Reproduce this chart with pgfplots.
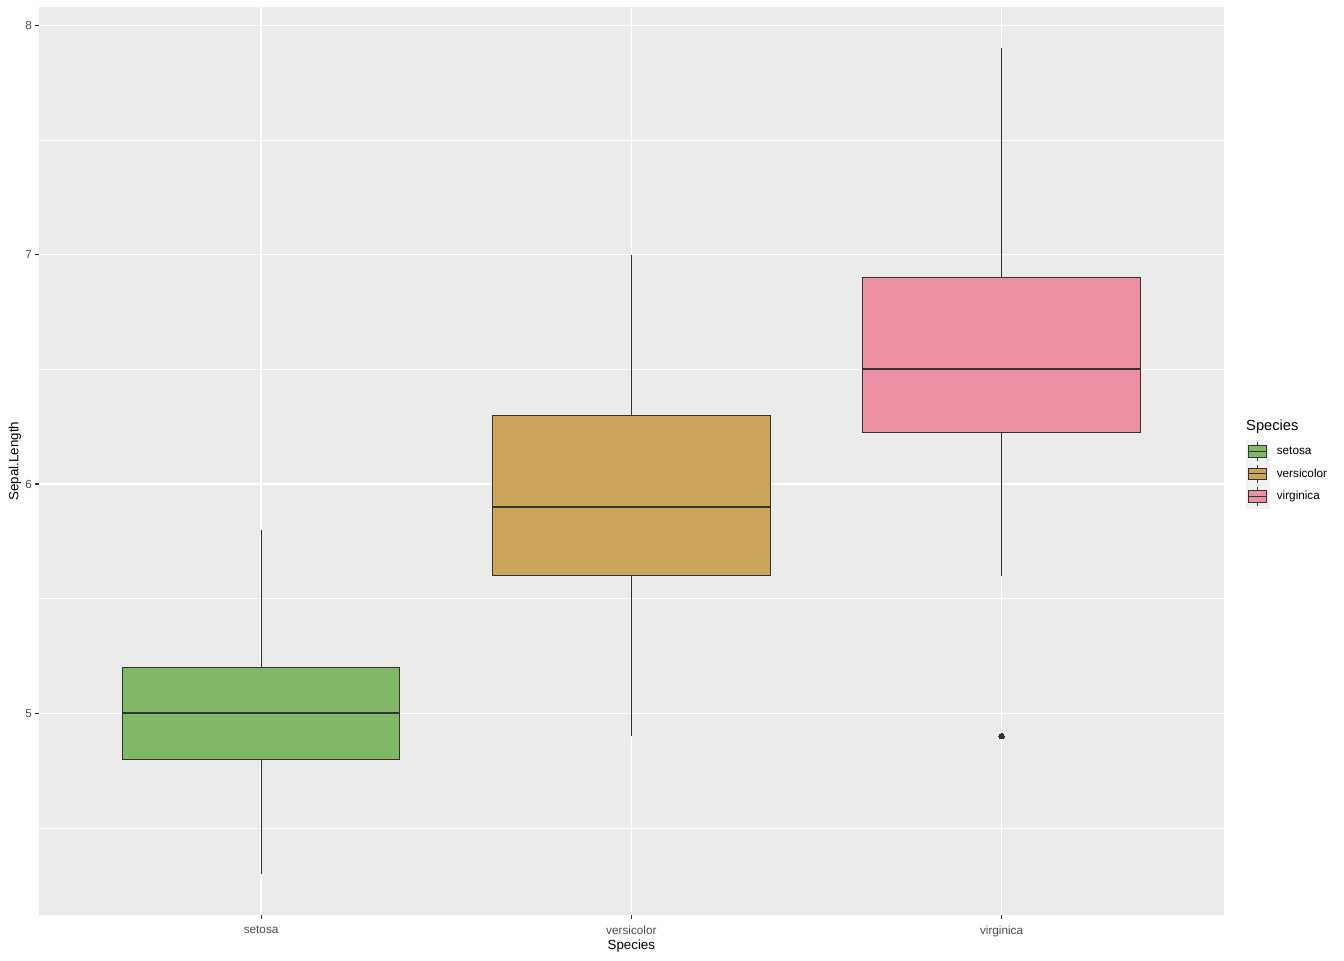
\documentclass[border=0pt]{standalone}
\usepackage{pgfplots}
\pgfplotsset{compat=1.18}
\usepackage{fontspec}
\setmainfont{Liberation Sans}
\definecolor{gray20}{HTML}{333333}
\definecolor{gray30}{HTML}{4D4D4D}
\definecolor{gray92}{HTML}{EBEBEB}
\definecolor{gray95}{HTML}{F2F2F2}
\definecolor{cSetosa}{HTML}{7FB966}
\definecolor{cVersi}{HTML}{CBA55B}
\definecolor{cVirg}{HTML}{EC8FA3}
\newcommand{\keyimg}[1]{%
  \fill[gray95] (0pt,-8.64pt) rectangle (17.28pt,8.64pt);
  \draw[gray20,line width=0.75pt] (8.64pt,-6.912pt) -- (8.64pt,6.912pt);
  \filldraw[fill=#1,draw=gray20,line width=0.75pt] (1.728pt,-4.32pt) rectangle (15.552pt,4.32pt);
  \draw[gray20,line width=0.75pt] (1.728pt,0pt) -- (15.552pt,0pt);
}
% box plot statistics: position, lower whisker, Q1, median, Q3, upper whisker
% setosa:     1, 4.3, 4.8,   5.0, 5.2, 5.8
% versicolor: 2, 4.9, 5.6,   5.9, 6.3, 7.0
% virginica:  3, 5.6, 6.225, 6.5, 6.9, 7.9  (outlier 4.9)
\pgfplotsset{
  whisk/.style={gray20, line width=0.75pt, forget plot, no markers},
  boxs/.style={fill=#1, draw=gray20, line width=0.75pt, forget plot, no markers},
  med/.style={gray20, line width=1.6pt, forget plot, no markers},
}
\begin{document}
\begin{tikzpicture}
\useasboundingbox (0,0) rectangle (1008pt,720pt);
\begin{axis}[
  at={(29.25pt,33.75pt)}, anchor=south west,
  scale only axis, width=888.5pt, height=680.9pt,
  xmin=0.4, xmax=3.6, ymin=4.12, ymax=8.08,
  xtick={1,2,3}, xticklabels={setosa,versicolor,virginica},
  ytick={5,6,7,8},
  minor ytick={4.5,5.5,6.5,7.5},
  xmajorgrids, ymajorgrids, yminorgrids,
  major grid style={white, line width=1.07pt},
  minor grid style={white, line width=0.53pt},
  axis background/.style={fill=gray92},
  axis line style={draw=none},
  tick align=outside,
  major tick length=2.75pt, minor tick length=0pt,
  tick style={gray20, line width=0.8pt},
  xtick pos=bottom, ytick pos=left,
  /pgf/number format/assume math mode=true,
  ticklabel style={font=\fontsize{8.8}{10}\selectfont, text=gray30},
  xticklabel style={inner sep=0pt, yshift=-5pt},
  yticklabel style={inner sep=0pt, xshift=-2.4pt},
  xlabel={Species}, ylabel={Sepal.Length},
  label style={font=\fontsize{11}{13}\selectfont, text=black},
  every axis x label/.style={at={(axis description cs:0.5,-0.0341)}, anchor=center},
  every axis y label/.style={at={(axis description cs:-0.0203,0.5)}, anchor=center, rotate=90},
  legend style={name=leg, at={(axis description cs:1.0188,0.4858)}, anchor=west,
    draw=none, fill=none, inner sep=0pt, outer sep=0pt, row sep=-0.72pt,
    font=\fontsize{8.8}{10}\selectfont,
    nodes={inner sep=0pt, outer sep=0pt, text=black}},
  legend cell align=left,
  legend style={column sep=0pt, cells={anchor=west}},
]
% setosa
\addplot[whisk] coordinates {(1,4.3) (1,4.8)};
\addplot[whisk] coordinates {(1,5.2) (1,5.8)};
\addplot[boxs=cSetosa] coordinates {(0.625,4.8) (1.375,4.8) (1.375,5.2) (0.625,5.2)} --cycle;
\addplot[med] coordinates {(0.625,5.0) (1.375,5.0)};
% versicolor
\addplot[whisk] coordinates {(2,4.9) (2,5.6)};
\addplot[whisk] coordinates {(2,6.3) (2,7.0)};
\addplot[boxs=cVersi] coordinates {(1.625,5.6) (2.375,5.6) (2.375,6.3) (1.625,6.3)} --cycle;
\addplot[med] coordinates {(1.625,5.9) (2.375,5.9)};
% virginica
\addplot[whisk] coordinates {(3,5.6) (3,6.225)};
\addplot[whisk] coordinates {(3,6.9) (3,7.9)};
\addplot[boxs=cVirg] coordinates {(2.625,6.225) (3.375,6.225) (3.375,6.9) (2.625,6.9)} --cycle;
\addplot[med] coordinates {(2.625,6.5) (3.375,6.5)};
\addplot[only marks, mark=*, mark size=2.1pt, mark options={fill=gray20, draw=gray20, line width=0pt}, forget plot]
  coordinates {(3,4.9)};
% legend
\addlegendimage{legend image code/.code={\keyimg{cSetosa}}}
\addlegendentry{\hspace{5.5pt}setosa}
\addlegendimage{legend image code/.code={\keyimg{cVersi}}}
\addlegendentry{\hspace{5.5pt}versicolor}
\addlegendimage{legend image code/.code={\keyimg{cVirg}}}
\addlegendentry{\hspace{5.5pt}virginica}
\end{axis}
\node[anchor=base west, inner sep=0pt, font=\fontsize{11}{13}\selectfont]
  at ([yshift=7.1pt]leg.north west) {Species};
\end{tikzpicture}
\end{document}
